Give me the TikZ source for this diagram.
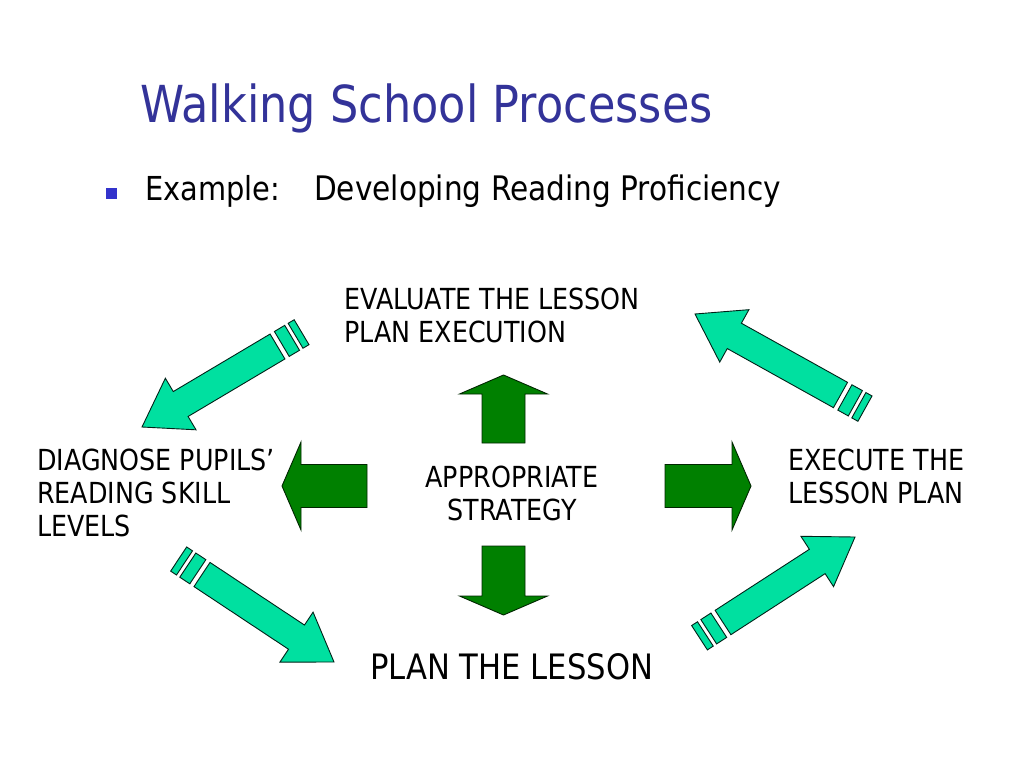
\documentclass[tikz,border=0pt]{standalone}
\usepackage{fontspec}
\setmainfont{DejaVu Sans}[FakeStretch=0.875]
\usepackage{xcolor}
\usetikzlibrary{calc}

\definecolor{titleblue}{RGB}{51,51,153}
\definecolor{bulletblue}{RGB}{51,51,204}
\definecolor{leafgreen}{RGB}{0,128,0}
\definecolor{mint}{RGB}{0,224,160}

\tikzset{
  lightarrow/.style={fill=mint, draw=black!85!mint, line width=0.9pt},
  darkarrow/.style={fill=leafgreen, draw=black!70!leafgreen, line width=0.9pt},
  stagetext/.style={anchor=base west, inner sep=0pt, align=left, font=\fontsize{29}{33}\selectfont},
}

% striped block arrow from tail coordinate to tip coordinate
\newcommand\stripearrow[2]{%
  \draw[lightarrow] let \p1=($(#2)-(#1)$), \n1={atan2(\y1,\x1)}, \n2={veclen(\x1,\y1)} in
    [shift={(#1)}, rotate=\n1]
    (0pt,-14.5pt) -- ({\n2-45pt},-14.5pt) -- ({\n2-45pt},-30pt) -- ({\n2+0pt},0pt)
      -- ({\n2-45pt},30pt) -- ({\n2-45pt},14.5pt) -- (0pt,14.5pt) -- cycle
    (-5pt,-14.5pt) -- (-17pt,-14.5pt) -- (-17pt,14.5pt) -- (-5pt,14.5pt) -- cycle
    (-21pt,-14.5pt) -- (-28pt,-14.5pt) -- (-28pt,14.5pt) -- (-21pt,14.5pt) -- cycle;}

% plain block arrow from tail coordinate to tip coordinate
\newcommand\fatarrow[2]{%
  \draw[darkarrow] let \p1=($(#2)-(#1)$), \n1={atan2(\y1,\x1)}, \n2={veclen(\x1,\y1)} in
    [shift={(#1)}, rotate=\n1]
    (0pt,-21.5pt) -- ({\n2-19pt},-21.5pt) -- ({\n2-19pt},-44pt) -- ({\n2+0pt},0pt)
      -- ({\n2-19pt},44pt) -- ({\n2-19pt},21.5pt) -- (0pt,21.5pt) -- cycle;}

\begin{document}
\begin{tikzpicture}[x=1pt, y=-1pt]
        \useasboundingbox (0,0) rectangle (1024,768);
        \fill[white] (0,0) rectangle (1024,768);

        % heading
        \node (title) at (140, 122) [anchor=base west, inner sep=0pt, text=titleblue, font=\fontsize{51}{60}\selectfont] {Walking School Processes};
        \node (bullet) at (111.5, 193.5) [fill=bulletblue, minimum size=11pt, inner sep=0pt] {};
        \node (example) at (145, 200) [anchor=base west, inner sep=0pt, font=\fontsize{33}{40}\selectfont] {Example:};
        \node (topic) at (314, 200) [anchor=base west, inner sep=0pt, font=\fontsize{33.8}{40}\selectfont] {Developing Reading Proficiency};

        % stages (base = last line)
        \node (evaluate) at (344, 342) [stagetext] {EVALUATE THE LESSON\\PLAN EXECUTION};
        \node (diagnose) at (37, 536) [stagetext] {DIAGNOSE PUPILS’\\READING SKILL\\LEVELS};
        \node (execute) at (788, 503) [stagetext] {EXECUTE THE\\LESSON PLAN};
        \node (strategy) at (512, 520) [stagetext, anchor=base, align=center] {APPROPRIATE\\STRATEGY};
        \node (plan) at (370, 679) [anchor=base west, inner sep=0pt, font=\fontsize{35}{40}\selectfont] {PLAN THE LESSON};

        % cycle arrows
        \coordinate (toDiagTail) at (277.5, 346.5);
        \coordinate (toDiagTip) at (142, 427);
        \coordinate (toPlanTail) at (202, 574.5);
        \coordinate (toPlanTip) at (334, 662);
        \coordinate (toExecTail) at (723, 622.5);
        \coordinate (toExecTip) at (855, 537);
        \coordinate (toEvalTail) at (840.5, 395);
        \coordinate (toEvalTip) at (695, 314);
        \stripearrow{toDiagTail}{toDiagTip}
        \stripearrow{toPlanTail}{toPlanTip}
        \stripearrow{toExecTail}{toExecTip}
        \stripearrow{toEvalTail}{toEvalTip}

        % strategy arrows
        \coordinate (upTail) at (503.5, 443);
        \coordinate (upTip) at (503.5, 375);
        \coordinate (downTail) at (503.5, 546);
        \coordinate (downTip) at (503.5, 615);
        \coordinate (leftTail) at (367, 486);
        \coordinate (leftTip) at (282, 486);
        \coordinate (rightTail) at (665, 486);
        \coordinate (rightTip) at (751, 486);
        \fatarrow{upTail}{upTip}
        \fatarrow{downTail}{downTip}
        \fatarrow{leftTail}{leftTip}
        \fatarrow{rightTail}{rightTip}
\end{tikzpicture}
\end{document}
